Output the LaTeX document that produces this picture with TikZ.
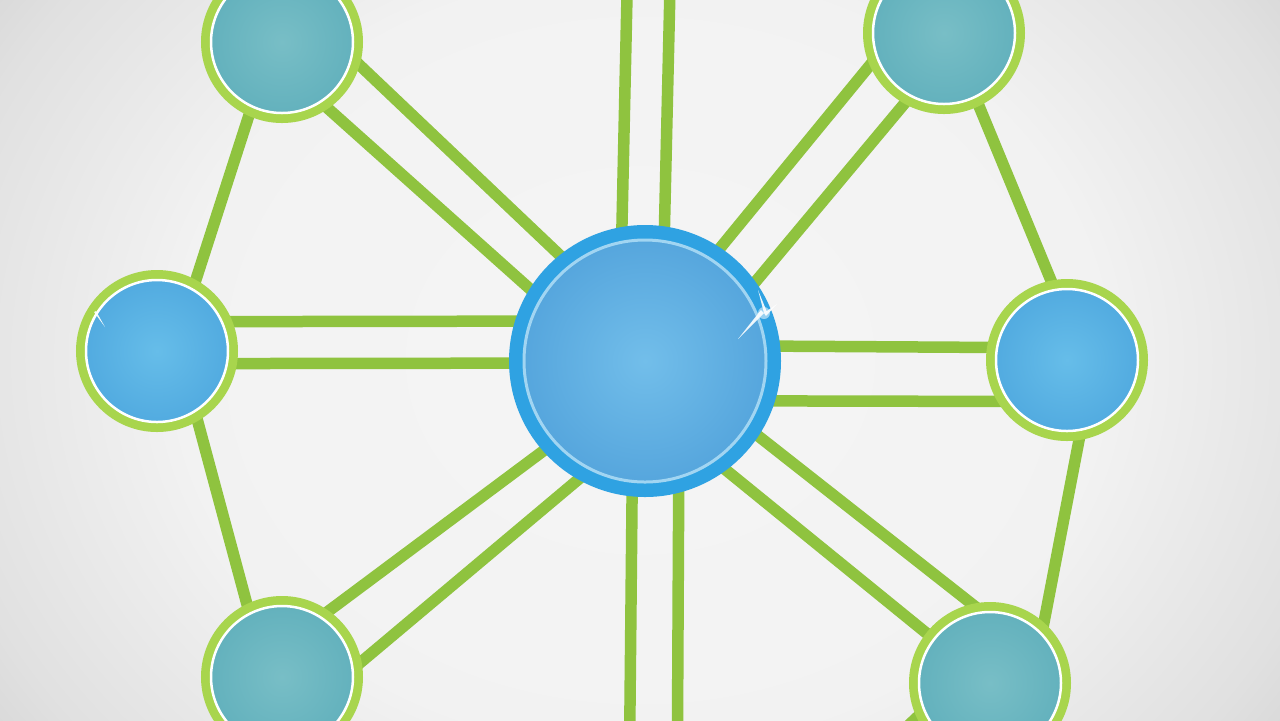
\documentclass[tikz,border=0pt]{standalone}
\pgfdeclarelayer{back}
\pgfdeclarelayer{wires}
\pgfsetlayers{back,wires,main}
\definecolor{wiregreen}{HTML}{8FC33F}
\definecolor{ringgreen}{HTML}{A8D54D}
\definecolor{hubring}{HTML}{2FA2E2}
\definecolor{hubin}{HTML}{72BEEA}
\definecolor{hubout}{HTML}{3A8ED0}
\definecolor{bluein}{HTML}{66BDE9}
\definecolor{blueout}{HTML}{3E99D7}
\definecolor{tealin}{HTML}{78BEC6}
\definecolor{tealout}{HTML}{4FA5B4}
\pgfdeclareradialshading{backdrop}{\pgfpoint{0bp}{0bp}}{color(0bp)=(white!96!black); color(18bp)=(white!95!black); color(28bp)=(white!88!black); color(35.4bp)=(white!80!black); color(50bp)=(white!75!black)}
\pgfdeclareradialshading{hubshade}{\pgfpoint{0bp}{0bp}}{color(0bp)=(hubin); color(50bp)=(hubout)}
\pgfdeclareradialshading{blueshade}{\pgfpoint{0bp}{0bp}}{color(0bp)=(bluein); color(50bp)=(blueout)}
\pgfdeclareradialshading{tealshade}{\pgfpoint{0bp}{0bp}}{color(0bp)=(tealin); color(50bp)=(tealout)}
\tikzset{
  wire/.style={draw=wiregreen, line width=1.15mm, shorten <=-2mm, shorten >=-2mm},
  ghost/.style={circle, inner sep=0pt, minimum size=14.2mm},
  leaf/.style={ghost, shade, draw=white, line width=0.25mm, preaction={draw=ringgreen, line width=2mm}},
  blueleaf/.style={leaf, shading=blueshade},
  tealleaf/.style={leaf, shading=tealshade},
  hubnode/.style={circle, inner sep=0pt, minimum size=24.2mm, shade, shading=hubshade, draw=white!55!hubring, line width=0.3mm, preaction={draw=hubring, line width=3mm}},
  glint/.style={fill=white, opacity=.9}
}
\begin{document}
\begin{tikzpicture}[x=0.1mm, y=-0.1mm]
\useasboundingbox (0,0) rectangle (1280,720);
\begin{pgfonlayer}{back}
  \shade[shading=backdrop] (0,-170) rectangle (1280,890);
\end{pgfonlayer}
% nodes
\node[hubnode] (hub) at (645,361) {};
\node[tealleaf] (tl) at (282,42) {};
\node[blueleaf] (lf) at (157,351) {};
\node[tealleaf] (bl) at (282,677) {};
\node[tealleaf] (tr) at (944,33) {};
\node[blueleaf] (rt) at (1067,360) {};
\node[tealleaf] (br) at (990,683) {};
\node[ghost] (up) at (656,-330) {};
\node[ghost] (dn) at (654,1060) {};
% links
\begin{pgfonlayer}{wires}
  \foreach \a/\b in {hub.57/tr.200, hub.34/tr.242, hub.128/tl.347, hub.149/tl.303,
      hub.161/lf.24, hub.181/lf.350, hub.7/rt.170, hub.341/rt.215,
      hub.222/bl.57, hub.243/bl.7, hub.327/br.97, hub.305/br.142,
      hub.101/up.251, hub.81/up.286, hub.264/dn.112, hub.286/dn.72}
    \draw[wire] (\a) -- (\b);
  \foreach \a/\b in {tl.245/lf.60, lf.302/bl.117, tr.296/rt.100, rt.281/br.44, br.203/dn.150}
    \draw[wire] (\a) -- (\b);
\end{pgfonlayer}
% sparkles
\fill[glint] (764,313) -- (738,339) -- (761,310) -- cycle;
\fill[glint] (764,313) -- (758,290) -- (767,312) -- cycle;
\fill[glint] (764,313) -- (777,304) -- (766,316) -- cycle;
\fill[glint, opacity=.5] (764,313) circle (6);
\fill[glint] (94,312) -- (105,327) -- (96,311) -- cycle;
\end{tikzpicture}
\end{document}
